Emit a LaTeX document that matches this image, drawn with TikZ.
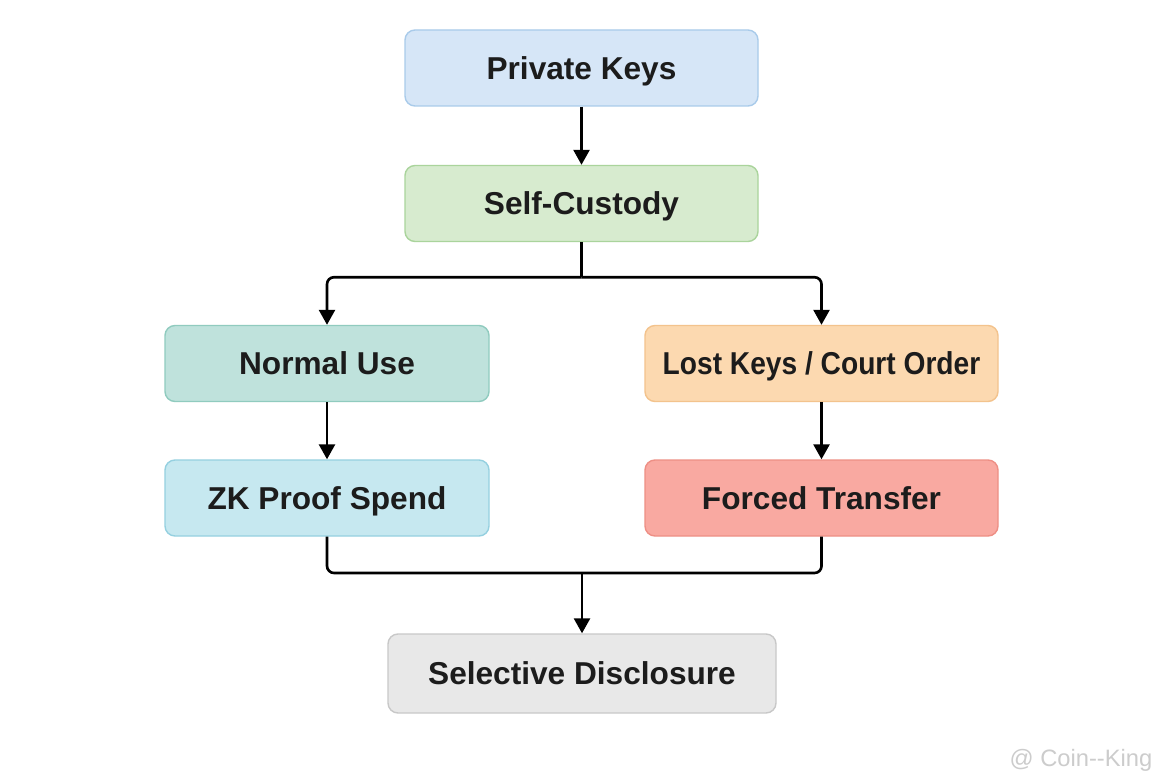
\documentclass[tikz,border=0pt]{standalone}
\usepackage{graphicx}
\usepackage{fontspec}
\setmainfont{Liberation Sans}
\newfontfamily\markfont{Liberation Sans}
\usetikzlibrary{arrows.meta}

\definecolor{keysfill}{HTML}{D6E6F7}
\definecolor{keysline}{HTML}{A9CBEA}
\definecolor{custodyfill}{HTML}{D7EBCF}
\definecolor{custodyline}{HTML}{AAD49C}
\definecolor{normalfill}{HTML}{BFE2DC}
\definecolor{normalline}{HTML}{90CBBF}
\definecolor{lostfill}{HTML}{FCD9B0}
\definecolor{lostline}{HTML}{F3C38D}
\definecolor{zkfill}{HTML}{C6E8F0}
\definecolor{zkline}{HTML}{95D0E0}
\definecolor{forcedfill}{HTML}{F9A9A1}
\definecolor{forcedline}{HTML}{EE8F85}
\definecolor{discfill}{HTML}{E8E8E8}
\definecolor{discline}{HTML}{C8C8C8}
\definecolor{textgray}{HTML}{1C1C1C}

\tikzset{
    box/.style={draw, line width=0.8pt, rounded corners=0.2cm, minimum height=1.52cm,
        font=\fontsize{18}{22}\selectfont\bfseries, text=textgray,
        text height=16.5pt, text depth=3.6pt},
    link/.style={line width=1.5pt, black},
    arrow/.style={link, -{Triangle[width=3.2mm, length=3mm]}}
}

\begin{document}
\begin{tikzpicture}
    \useasboundingbox[fill=white] (0, 0) rectangle (23.36, -15.68);

    \node[box, fill=keysfill, draw=keysline, minimum width=7.06cm] (keys) at (11.63, -1.36) {Private Keys};
    \node[box, fill=custodyfill, draw=custodyline, minimum width=7.06cm] (custody) at (11.63, -4.07) {Self-Custody};
    \node[box, fill=normalfill, draw=normalline, minimum width=6.48cm] (normal) at (6.54, -7.27) {Normal Use};
    \node[box, fill=lostfill, draw=lostline, minimum width=7.06cm] (lost) at (16.43, -7.27) {\scalebox{0.89}[1]{Lost Keys / Court Order}};
    \node[box, fill=zkfill, draw=zkline, minimum width=6.48cm] (zk) at (6.54, -9.96) {ZK Proof Spend};
    \node[box, fill=forcedfill, draw=forcedline, minimum width=7.06cm] (forced) at (16.43, -9.96) {Forced Transfer};
    \node[box, fill=discfill, draw=discline, minimum width=7.76cm, minimum height=1.58cm] (disclosure) at (11.64, -13.47) {Selective Disclosure};

    \draw[arrow] (keys) -- (custody);
    \draw[link] (custody.south) -- ++(0, -0.7) coordinate (split);
    \draw[arrow, rounded corners=4pt] (split) -| (normal.north);
    \draw[arrow, rounded corners=4pt] (split) -| (lost.north);
    \draw[arrow] (normal) -- (zk);
    \draw[arrow] (lost) -- (forced);

    \coordinate (merge) at (11.64, -11.46);
    \draw[link, rounded corners=4pt] (zk.south) |- (merge) -| (forced.south);
    \draw[arrow] (merge) -- (disclosure.north);

    \node[text=black!20, font=\markfont\fontsize{13.5}{16}\selectfont] (mark) at (21.62, -15.2) {@ Coin--King};
\end{tikzpicture}
\end{document}
